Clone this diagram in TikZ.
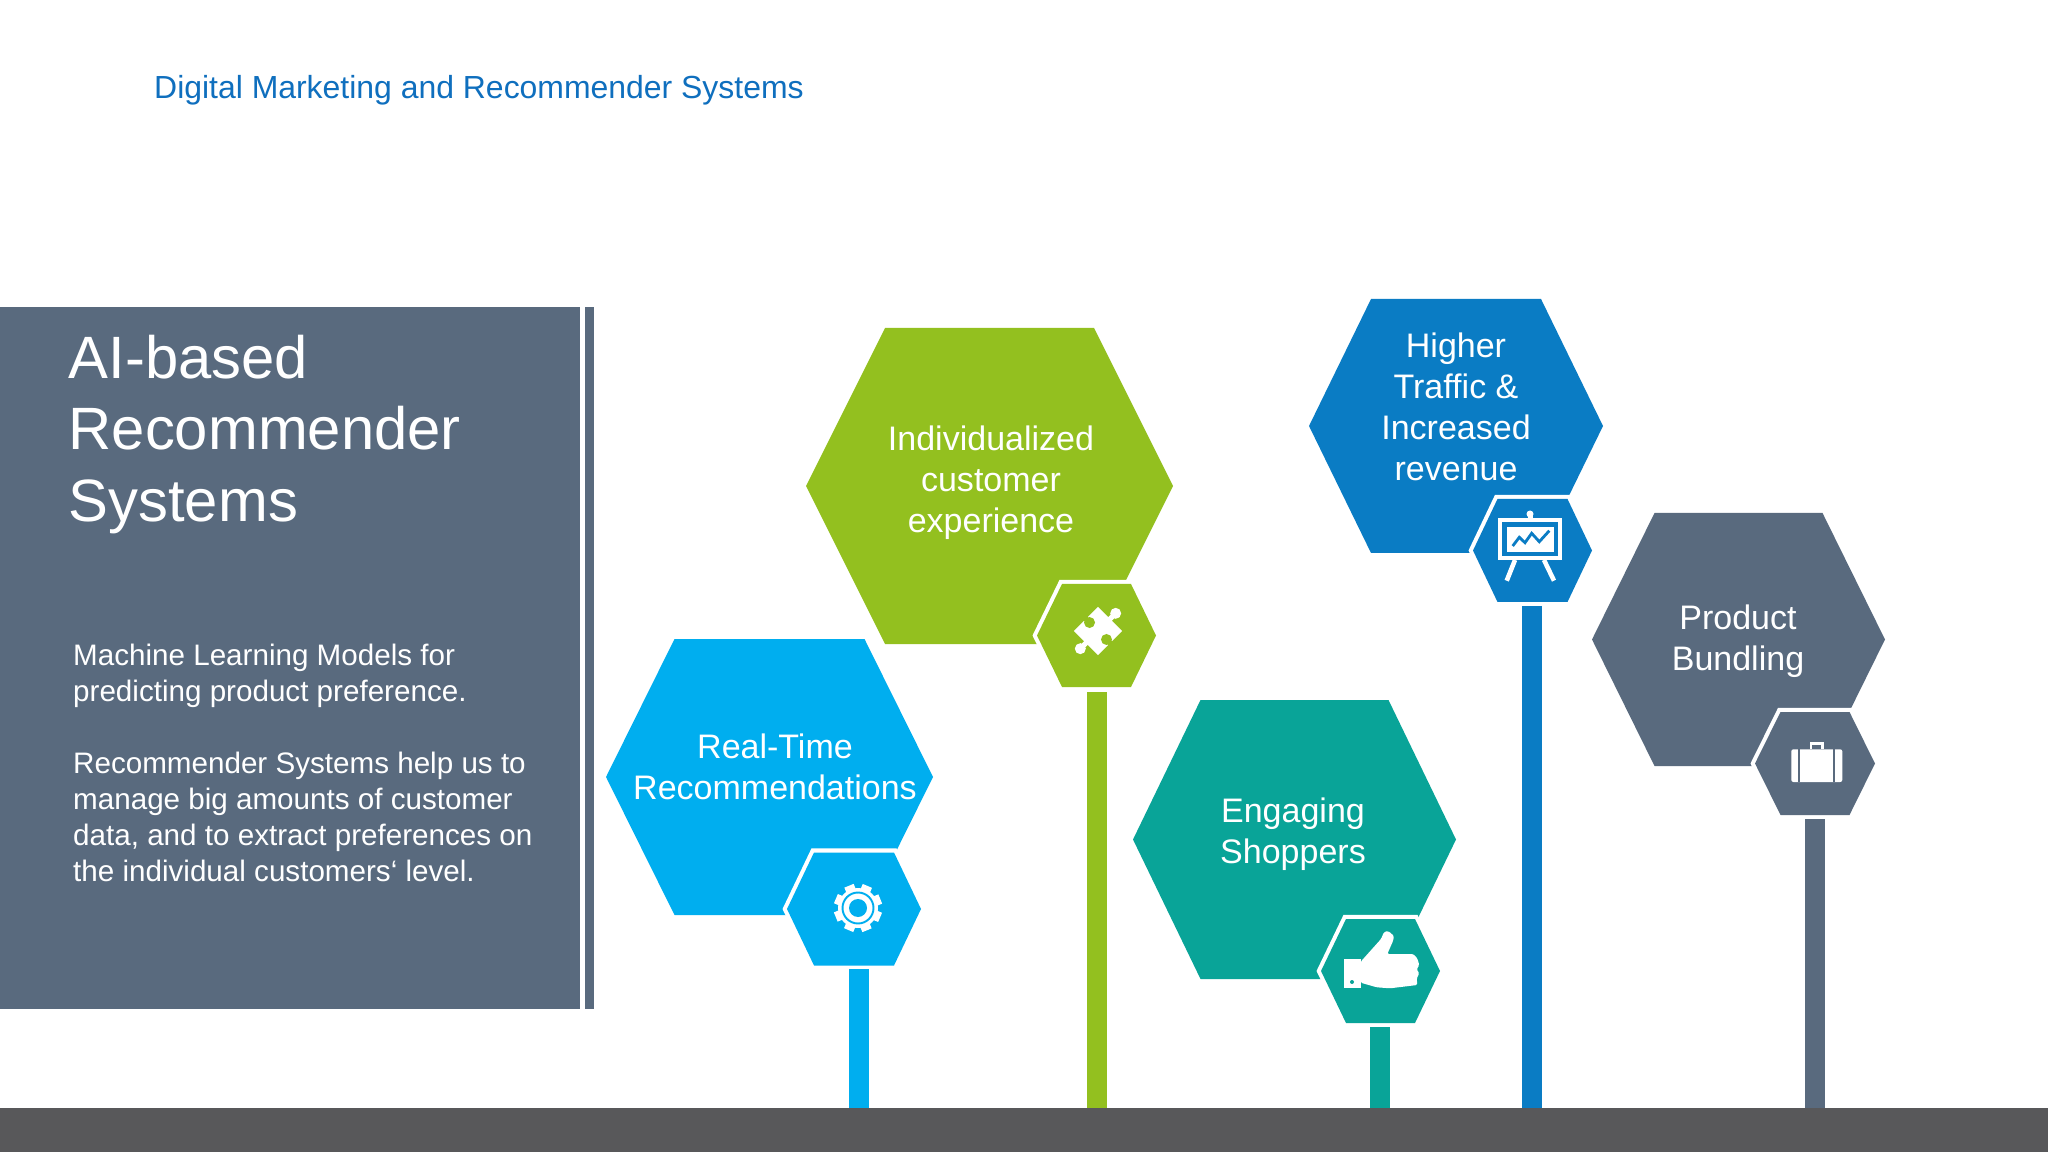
\documentclass[tikz,border=0pt]{standalone}
\usepackage{fontspec}
\setmainfont{Liberation Sans}
\usetikzlibrary{positioning}
\definecolor{skyc}{HTML}{00AEEF}
\definecolor{leafc}{HTML}{93C01F}
\definecolor{tealc}{HTML}{09A498}
\definecolor{bluec}{HTML}{0A7CC4}
\definecolor{slatec}{HTML}{596A7E}
\definecolor{barc}{HTML}{58585A}
\definecolor{titlec}{HTML}{0F6FBE}
\newcommand{\hexa}[5]{({#1-#3},#2) -- ({#1-#4},{#2-#5}) -- ({#1+#4},{#2-#5}) -- ({#1+#3},#2) -- ({#1+#4},{#2+#5}) -- ({#1-#4},{#2+#5}) -- cycle}
\tikzset{
    hexlabel/.style={text=white,align=center,font=\fontsize{9.67}{11.66}\selectfont,inner sep=0pt},
    badge/.style={fill=#1,preaction={draw=white,line width=2.3pt}},
    post/.style={draw=#1,line width=5.69pt},
}
\begin{document}
\begin{tikzpicture}[x=0.01cm,y=-0.01cm]
            \useasboundingbox (0,0) rectangle (2048,1152);
            \fill[white] (0,0) rectangle (2048,1152);
            \fill[barc] (0,1108) rectangle (2048,1152);
            \fill[slatec] (0,307) rectangle (580,1009);
            \fill[slatec] (585,307) rectangle (594,1009);
            \node[anchor=west,text=titlec,inner sep=0pt,font=\fontsize{9.08}{11}\selectfont] (title) at (153.5,90.6) {Digital Marketing and Recommender Systems};
            \node[anchor=west,text=white,align=left,inner sep=0pt,font=\fontsize{17}{20.43}\selectfont] (heading) at (68,434.5) {AI-based\\Recommender\\Systems};
            \node[anchor=west,text=white,align=left,inner sep=0pt,font=\fontsize{8.42}{10.2}\selectfont] (body) at (72.5,763) {Machine Learning Models for\\predicting product preference.\\[10.2pt]Recommender Systems help us to\\manage big amounts of customer\\data, and to extract preferences on\\the individual customers‘ level.};
            % big hexagons
            \fill[skyc] \hexa{769.5}{777}{163.5}{95}{138};
            \fill[leafc] \hexa{989.5}{486}{183.5}{104.5}{158};
            \fill[tealc] \hexa{1294.5}{839.5}{161.5}{94}{139.5};
            \fill[bluec] \hexa{1456}{426}{147}{85}{127};
            \fill[slatec] \hexa{1738.5}{639.5}{146.5}{84}{126.5};
            \node[hexlabel] (realtime) at (775,767) {Real-Time\\Recommendations};
            \node[hexlabel] (individual) at (991,483) {Individualized\\customer\\experience};
            \node[hexlabel] (engaging) at (1293,834.6) {Engaging\\Shoppers};
            \node[hexlabel] (traffic) at (1456,407) {Higher\\Traffic \&\\Increased\\revenue};
            \node[hexlabel] (bundling) at (1738,641) {Product\\Bundling};
            % small hexagons
            \path[badge=skyc] \hexa{854}{909}{67}{40}{56.5};
            \path[badge=leafc] \hexa{1096.5}{635.5}{59.5}{34.5}{51.5};
            \path[badge=tealc] \hexa{1380.5}{971}{59.5}{34.5}{52};
            \path[badge=bluec] \hexa{1532.5}{550.5}{59.5}{35}{51.5};
            \path[badge=slatec] \hexa{1815}{763.5}{60}{34.5}{51.5};
            % posts
            \foreach \name/\px/\py/\col in {sky/859/969/skyc,leaf/1097/692/leafc,teal/1380/1027/tealc,blue/1532/606/bluec,slate/1815/819/slatec}{
                \coordinate (\name top) at (\px,\py);
                \coordinate (\name foot) at (\px,1108);
                \draw[post=\col] (\name top) -- (\name foot);
            }
            % gear
            \begin{scope}[shift={(858,908)}]
                \fill[white] (0,0) circle (20);
                \foreach \a in {0,45,...,315}{
                    \fill[white,rotate=\a+22] (-5,-24) rectangle (5,0);
                }
                \draw[skyc,line width=0.55pt] (0,0) circle (15.5);
                \fill[skyc] (0,0) circle (9);
            \end{scope}
            % puzzle piece
            \begin{scope}[shift={(1098,631)},rotate=45]
                \fill[white] (-17,-17) rectangle (17,17);
                \fill[white] (25,0) circle (5.5) (-25,0) circle (5.5);
                \fill[white] (15,-2.5) rectangle (24,2.5) (-15,-2.5) rectangle (-24,2.5);
                \fill[leafc] (0,-12) circle (5.5) (0,12) circle (5.5);
                \fill[leafc] (-2.5,-12) rectangle (2.5,-18) (-2.5,12) rectangle (2.5,18);
            \end{scope}
            % thumb
            \fill[white] (1344,959) rectangle (1361,988);
            \fill[white,rounded corners=0.4pt] (1360.7,961.7) -- (1381,939) -- (1384,932) -- (1388.3,931) -- (1394,936) -- (1393,941) -- (1387.3,954) -- (1413.3,954) -- (1417.3,958.3) -- (1419.3,965) -- (1416.7,969.3) -- (1419.3,973.3) -- (1416.7,978.3) -- (1417.3,985) -- (1390,988.3) -- (1376.7,987.3) -- (1360.7,982.7) -- cycle;
            \fill[tealc] (1352,982) circle (2);
            % easel
            \fill[white] (1530,514) circle (3.5);
            \fill[white] (1527.5,514) rectangle (1532.5,518);
            \fill[white] (1498,518) rectangle (1562,560);
            \fill[bluec] (1502.3,522.3) rectangle (1558,556);
            \fill[white] (1507,527) rectangle (1554,552);
            \draw[bluec,line width=0.8pt] (1512.7,546) -- (1519.3,537.3) -- (1525,542.7) -- (1531.7,533.3) -- (1539.3,541.7) -- (1549.3,530.7);
            \draw[white,line width=1.3pt] (1515,560) -- (1506.7,580.7) (1544,560) -- (1554,580.7);
            % briefcase
            \fill[white,rounded corners=0.6pt] (1791.3,749.3) rectangle (1842.3,782);
            \draw[slatec,line width=0.5pt] (1799.3,749) -- (1799.3,782) (1834.3,749) -- (1834.3,782);
            \draw[white,line width=0.7pt] (1811,749.3) -- (1811,743.5) -- (1822.5,743.5) -- (1822.5,749.3);
        \end{tikzpicture}
\end{document}
